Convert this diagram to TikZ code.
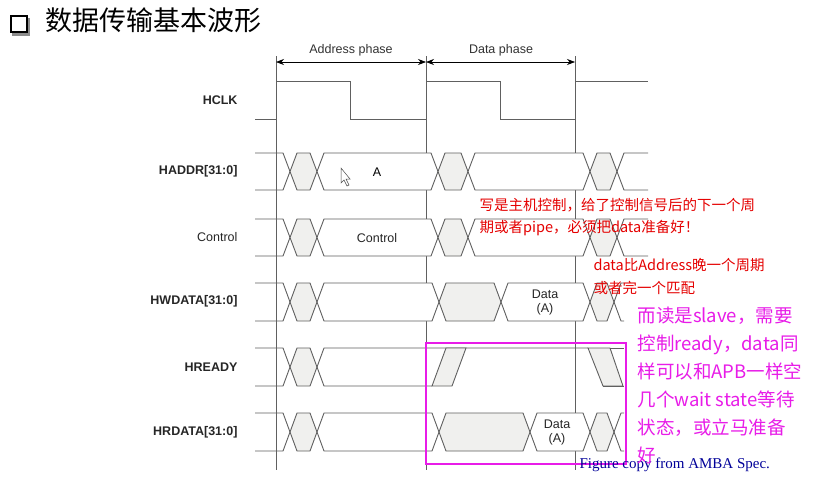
\documentclass[tikz,border=0pt]{standalone}
\usepackage{fontspec}
\setmainfont{Liberation Sans}
\newfontfamily\cjk{Noto Sans CJK SC}
\newfontfamily\serif{Liberation Serif}
\usetikzlibrary{arrows.meta}
\definecolor{wv}{HTML}{606060}
\definecolor{sh}{HTML}{F0F0EE}
\definecolor{mg}{HTML}{E81CE8}
\tikzset{wave/.style={draw=wv,line width=0.9pt,line join=miter},
 lab/.style={anchor=east,font=\fontsize{12.5}{14}\selectfont\bfseries,text=black!85},
 redt/.style={anchor=west,text=red!90!black,font=\cjk\fontsize{14.5}{16}\selectfont},
 mgt/.style={anchor=north west,text=mg,font=\cjk\fontsize{18.5}{28}\selectfont,align=left}}
\newcommand\hexs[5]{\draw[wave,fill=#5] (#1,{(#3+#4)/2})--(#1+7,#3)--(#2-7,#3)--(#2,{(#3+#4)/2})--(#2-7,#4)--(#1+7,#4)--cycle;}
\newcommand\lend[3]{\draw[wave] (255,#2)--(#1-7,#2)--(#1,{(#2+#3)/2})--(#1-7,#3)--(255,#3);}
\newcommand\rend[4]{\draw[wave] (#4,#2)--(#1+7,#2)--(#1,{(#2+#3)/2})--(#1+7,#3)--(#4,#3);}
\begin{document}
\begin{tikzpicture}[x=1pt,y=-1pt]
\useasboundingbox[fill=white] (0,0) rectangle (821,480);
\fill[black!45] (12,18) rectangle (30,36);
\node[draw=black,fill=white,line width=2pt,minimum size=16pt,inner sep=0pt] (box) at (19,24) {};
\node[anchor=west,font=\cjk\fontsize{27}{29}\selectfont] (title) at (42,20) {数据传输基本波形};
\coordinate (v1t) at (276,56); \coordinate (v1b) at (276,470);
\coordinate (v2t) at (426,56); \coordinate (v2b) at (426,470);
\coordinate (v3t) at (575,56); \coordinate (v3b) at (575,470);
\draw[wave,line width=0.7pt] (v1t)--(v1b) (v2t)--(v2b) (v3t)--(v3b);
\draw[line width=0.7pt,{Stealth[length=8pt]}-{Stealth[length=8pt]}] (276,62)--(426,62);
\draw[line width=0.7pt,{Stealth[length=8pt]}-{Stealth[length=8pt]}] (426,62)--(575,62);
\node[font=\fontsize{12.5}{14}\selectfont,text=black!80] (ap) at (351,50) {Address phase};
\node[font=\fontsize{12.5}{14}\selectfont,text=black!80] (dp) at (501,50) {Data phase};
\node[lab] (l1) at (241,100) {HCLK};
\node[lab] (l2) at (241,171) {HADDR[31:0]};
\node[lab,font=\fontsize{12.5}{14}\selectfont] (l3) at (241,237) {Control};
\node[lab] (l4) at (241,301) {HWDATA[31:0]};
\node[lab] (l5) at (241,367) {HREADY};
\node[lab] (l6) at (241,432) {HRDATA[31:0]};
\draw[wave] (255,119)--(276,119)--(276,81)--(350,81)--(350,119)--(426,119)--(426,81)--(500,81)--(500,119)--(575,119)--(575,81)--(648,81);
\lend{290}{153}{190}\hexs{290}{317}{153}{190}{sh}\hexs{317}{438}{153}{190}{white}\hexs{438}{468}{153}{190}{sh}\hexs{468}{590}{153}{190}{white}\hexs{590}{617}{153}{190}{sh}\rend{617}{153}{190}{648}
\node[font=\fontsize{12.5}{14}\selectfont] (ta) at (377,172) {A};
\draw[fill=white,draw=black!70,line width=0.5pt] (341,168)--(341,183)--(344,180)--(347,186)--(349,185)--(346,179)--(350,179)--cycle;
\lend{290}{219}{256}\hexs{290}{317}{219}{256}{sh}\hexs{317}{438}{219}{256}{white}\hexs{438}{468}{219}{256}{sh}\hexs{468}{590}{219}{256}{white}\hexs{590}{617}{219}{256}{sh}\rend{617}{219}{256}{648}
\node[font=\fontsize{12.5}{14}\selectfont,text=black!85] (tc) at (377,238) {Control};
\lend{290}{283}{321}\hexs{290}{317}{283}{321}{sh}\hexs{317}{439}{283}{321}{white}\hexs{439}{501}{283}{321}{sh}\hexs{501}{590}{283}{321}{white}\hexs{590}{614}{283}{321}{sh}\rend{614}{283}{321}{624}
\node[font=\fontsize{12.5}{14}\selectfont,align=center,text=black!85] (tw) at (545,302) {Data\\(A)};
\lend{290}{348}{386}\hexs{290}{317}{348}{386}{sh}
\draw[wave] (317,367)--(324,348)--(588,348) (317,367)--(324,386)--(432,386);
\draw[wave,fill=sh] (432,386)--(446,348)--(466,348)--(452,386)--cycle;
\draw[wave,fill=sh] (588,348)--(610,348)--(623,386)--(603,386)--cycle;
\draw[wave] (610,348)--(624,348) (603,386)--(624,386);
\lend{290}{413}{451}\hexs{290}{317}{413}{451}{sh}\hexs{317}{439}{413}{451}{white}\hexs{439}{530}{413}{451}{sh}\hexs{530}{590}{413}{451}{white}\hexs{590}{614}{413}{451}{sh}\rend{614}{413}{451}{624}
\node[font=\fontsize{12.5}{14}\selectfont,align=center,text=black!85] (tr) at (557,432) {Data\\(A)};
\node[draw=mg,line width=2pt,minimum width=200pt,minimum height=121pt,anchor=north west,inner sep=0pt] (mbox) at (425,342) {};
\node[redt] (r1) at (476,205) {写是主机控制，给了控制信号后的下一个周};
\node[redt] (r2) at (476,228) {期或者pipe，必须把data准备好！};
\node[redt] (r3) at (590,265) {data比Address晚一个周期};
\node[redt] (r4) at (590,288) {或者完一个匹配};
\node[anchor=west,text=blue!60!black,font=\serif\fontsize{15}{17}\selectfont] (fc) at (576,465) {Figure copy from AMBA Spec.};
\node[mgt] (m1) at (634,303) {而读是slave，需要\\控制ready，data同\\样可以和APB一样空\\几个wait state等待\\状态，或立马准备\\好};
\end{tikzpicture}
\end{document}
